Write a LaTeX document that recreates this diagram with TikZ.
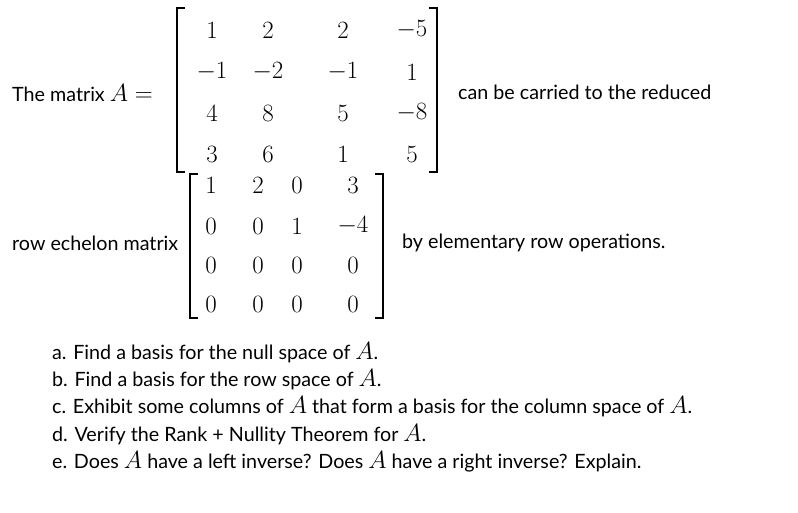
\documentclass[tikz,border=0pt]{standalone}
\usepackage{fontspec}
\setmainfont{Lato}
\begin{document}
\begin{tikzpicture}[x=1pt,y=-1pt,
  txt/.style={anchor=west,inner sep=0pt,font=\fontsize{19.7}{21}\selectfont},
  ent/.style={inner sep=0pt,font=\fontsize{29}{30}\selectfont},
  brk/.style={line width=1.8pt}]
\useasboundingbox (0,0) rectangle (798,513);
\newcommand{\bA}{{\fontsize{29}{29}\selectfont$A$}}
% matrix 1
\draw[brk] (185,8) -- (177,8) -- (177,172) -- (185,172);
\draw[brk] (429,8) -- (437,8) -- (437,172) -- (429,172);
\foreach \r/\y/\a/\b/\c/\d in {1/30/1/2/2/-5,2/72/-1/-2/-1/1,3/113/4/8/5/-8,4/154/3/6/1/5}{
  \node[ent] (m\r a) at (212,\y) {$\a$};
  \node[ent] (m\r b) at (268,\y) {$\b$};
  \node[ent] (m\r c) at (343,\y) {$\c$};
  \node[ent] (m\r d) at (412,\y) {$\d$};
}
% matrix 2
\draw[brk] (198,174) -- (190,174) -- (190,318) -- (198,318);
\draw[brk] (375,174) -- (383,174) -- (383,318) -- (375,318);
\foreach \r/\y/\a/\b/\c/\d in {1/185/1/2/0/3,2/226/0/0/1/-4,3/265/0/0/0/0,4/304/0/0/0/0}{
  \node[ent] (n\r a) at (211,\y) {$\a$};
  \node[ent] (n\r b) at (258,\y) {$\b$};
  \node[ent] (n\r c) at (297,\y) {$\c$};
  \node[ent] (n\r d) at (353,\y) {$\d$};
}
\node[txt] (t1) at (12,93) {The matrix {\fontsize{29}{29}\selectfont$A=$}};
\node[txt] (t2) at (458,92) {can be carried to the reduced};
\node[txt] (t3) at (12,243) {row echelon matrix};
\node[txt] (t4) at (402,243) {by elementary row operations.};
\node[txt] (q1) at (52,353) {a. Find a basis for the null space of \bA.};
\node[txt] (q2) at (52,380) {b. Find a basis for the row space of \bA.};
\node[txt] (q3) at (52,407) {c. Exhibit some columns of \bA{} that form a basis for the column space of \bA.};
\node[txt] (q4) at (52,435) {d. Verify the Rank + Nullity Theorem for \bA.};
\node[txt] (q5) at (52,462) {e. Does \bA{} have a left inverse? Does \bA{} have a right inverse? Explain.};
\end{tikzpicture}
\end{document}
